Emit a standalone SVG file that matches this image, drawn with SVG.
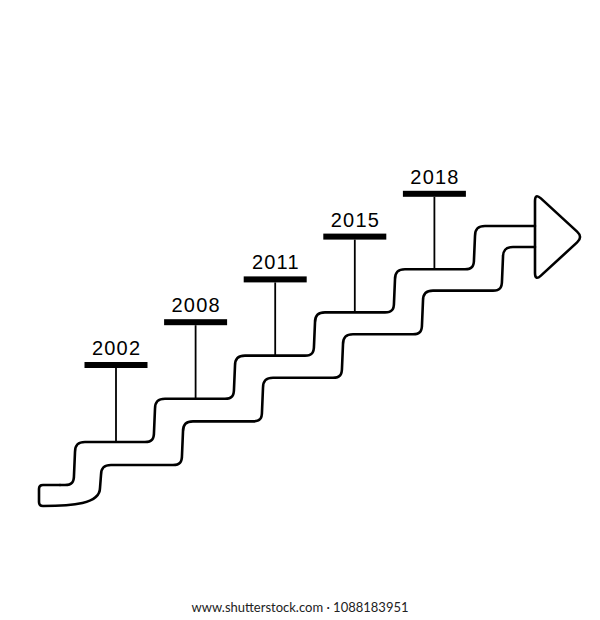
<svg xmlns="http://www.w3.org/2000/svg" width="600" height="620" viewBox="0 0 600 620">
  <style>
    .stair { fill: none; stroke: #000; stroke-width: 2.6; stroke-linecap: round; stroke-linejoin: round; }
    .stem { stroke: #000; stroke-width: 1.8; }
    .bar { fill: #000; }
    .year { font-family: "Liberation Sans", Arial, sans-serif; font-size: 20px; letter-spacing: 1.2px; fill: #000; text-anchor: middle; }
    .foot { font-family: Lato, "Liberation Sans", sans-serif; font-size: 13px; fill: #222; text-anchor: middle; }
  </style>
  <rect width="600" height="620" fill="#fff"/>

  <g id="stairs">
    <path class="stair" d="M 60 485 L 65 485 C 72 485 74 482 74 475 L 75 452 C 75 445 78 442 85 442
      L 145 442 C 152 442 154 439 154 432 L 155 408.8 C 155 401.8 158 398.8 165 398.8
      L 225 398.8 C 232 398.8 234 395.8 234 388.8 L 235 365.6 C 235 358.6 238 355.6 245 355.6
      L 305 355.6 C 312 355.6 314 352.6 314 345.6 L 315 322.4 C 315 315.4 318 312.4 325 312.4
      L 385 312.4 C 392 312.4 394 309.4 394 302.4 L 395 279.2 C 395 272.2 398 269.2 405 269.2
      L 465 269.2 C 472 269.2 474 266.2 474 259.2 L 475 236 C 475 229 478 226 485 226 L 535 226"/>
    <path class="stair" d="M 60 485 L 43 485 Q 39 485 39 489 L 39 502 Q 39 506 43 506 C 72 506 100 504 100 488 L 101 475 C 101 468 104 465 111 465
      L 173 465 C 180 465 182 462 182 455 L 183 431.4 C 183 424.4 186 421.4 193 421.4
      L 253 421.4 C 260 421.4 262 418.4 262 411.4 L 263 387.8 C 263 380.8 266 377.8 273 377.8
      L 333 377.8 C 340 377.8 342 374.8 342 367.8 L 343 344.2 C 343 337.2 346 334.2 353 334.2
      L 413 334.2 C 420 334.2 422 331.2 422 324.2 L 423 300.6 C 423 293.6 426 290.6 433 290.6
      L 493 290.6 C 500 290.6 502 287.6 502 280.6 L 503 257 C 503 250 506 247 513 247 L 535 247"/>
  </g>

  <g id="arrow">
    <path class="stair" d="M 535 201 Q 535 193 540.9 198.4 L 577.1 231.6 Q 583 237 577.1 242.4 L 540.9 275.6 Q 535 281 535 273 Z"/>
  </g>

  <g id="m2002">
    <line class="stem" x1="116" y1="368" x2="116" y2="442"/>
    <rect class="bar" x="84.5" y="362" width="63" height="6"/>
    <text class="year" x="116.6" y="355">2002</text>
  </g>
  <g id="m2008">
    <line class="stem" x1="195.6" y1="325.2" x2="195.6" y2="398.8"/>
    <rect class="bar" x="164.1" y="319.2" width="63" height="6"/>
    <text class="year" x="196.2" y="312.2">2008</text>
  </g>
  <g id="m2011">
    <line class="stem" x1="275.2" y1="282.4" x2="275.2" y2="355.6"/>
    <rect class="bar" x="243.7" y="276.4" width="63" height="6"/>
    <text class="year" x="275.8" y="269.4">2011</text>
  </g>
  <g id="m2015">
    <line class="stem" x1="354.8" y1="239.6" x2="354.8" y2="312.4"/>
    <rect class="bar" x="323.3" y="233.6" width="63" height="6"/>
    <text class="year" x="355.4" y="226.6">2015</text>
  </g>
  <g id="m2018">
    <line class="stem" x1="434.4" y1="196.8" x2="434.4" y2="269.2"/>
    <rect class="bar" x="402.9" y="190.8" width="63" height="6"/>
    <text class="year" x="435" y="183.8">2018</text>
  </g>

  <text class="foot" x="300" y="612">www.shutterstock.com · 1088183951</text>
</svg>
